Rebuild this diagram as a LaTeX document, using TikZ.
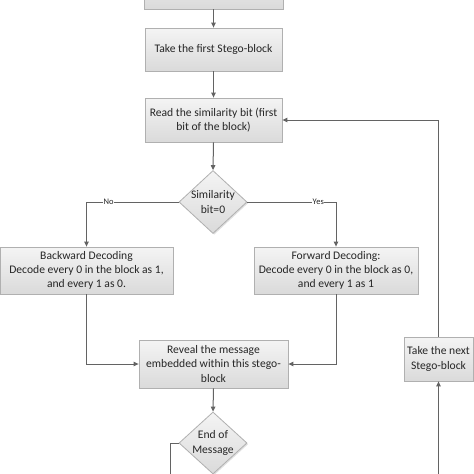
\documentclass[tikz,border=0pt]{standalone}
\usepackage{fontspec}
\setmainfont{Carlito}
\usetikzlibrary{shapes.geometric,arrows.meta,shadows}
\definecolor{linec}{HTML}{636363}
\definecolor{boxborder}{HTML}{B0B0B0}
\definecolor{boxtop}{HTML}{F4F4F4}
\definecolor{boxbot}{HTML}{DADADA}
\definecolor{textc}{HTML}{262626}
\tikzset{
  box/.style={draw=boxborder, line width=0.8pt, top color=boxtop, bottom color=boxbot,
    inner sep=0pt, align=center, text=textc, font=\fontsize{11.6}{14.4}\selectfont,
    drop shadow={shadow xshift=1.2pt, shadow yshift=-1.2pt, opacity=0.25, fill=gray}},
  dia/.style={shape=diamond, draw=boxborder, line width=0.8pt, top color=boxtop, bottom color=boxbot,
    inner sep=0pt, drop shadow={shadow xshift=1.2pt, shadow yshift=-1.2pt, opacity=0.25, fill=gray}},
  diatext/.style={align=center, text=textc, font=\fontsize{11.6}{14.4}\selectfont, inner sep=0pt},
  conn/.style={draw=linec, line width=1pt, -{Triangle[length=5pt,width=4.5pt]}},
  plain/.style={draw=linec, line width=1pt},
  lab/.style={fill=white, inner sep=0.5pt, text=textc, font=\fontsize{8.5}{9}\selectfont}
}
\begin{document}
\begin{tikzpicture}[x=1pt,y=-1pt]
\useasboundingbox (0,0) rectangle (474,474);
\clip (0,0) rectangle (474,474);
\fill[white] (0,0) rectangle (474,474);
% nodes
\node[box, minimum width=139pt, minimum height=44pt] (top) at (213.5,-13) {};
\node[box, minimum width=137pt, minimum height=43pt] (first) at (213.5,49.5) {Take the first Stego-block};
\node[box, minimum width=137pt, minimum height=44pt] (read) at (213.5,120) {Read the similarity bit (first\\bit of the block)};
\node[dia, minimum width=68pt, minimum height=63pt] (sim) at (213,202) {};
\node[diatext] (simt) at (213,202) {Similarity\\bit=0};
\node[box, minimum width=173pt, minimum height=47pt] (back) at (86.5,270.5) {Backward Decoding\\Decode every 0 in the block as 1,\\and every 1 as 0.};
\node[box, minimum width=164pt, minimum height=47pt] (fwd) at (336,270.5) {Forward Decoding:\\Decode every 0 in the block as 0,\\and every 1 as 1};
\node[box, minimum width=149pt, minimum height=48pt] (reveal) at (213.5,364) {Reveal the message\\embedded within this stego-\\block};
\node[dia, minimum width=68pt, minimum height=62pt] (end) at (213,443) {};
\node[diatext] (endt) at (213,443) {End of\\Message};
\node[box, minimum width=69pt, minimum height=44pt] (next) at (438.5,359) {Take the next\\Stego-block};
\coordinate (endl) at (170,490);
\coordinate (botr) at (438.5,490);
% connectors
\draw[conn] (top.south) -- (first.north);
\draw[conn] (first.south) -- (read.north);
\draw[conn] (read.south) -- (sim.north);
\draw[conn] (sim.west) -| node[lab, pos=0.38] {No} (back.north);
\draw[conn] (sim.east) -| node[lab, pos=0.4] {Yes} (fwd.north);
\draw[conn] (back.south) |- (reveal.west);
\draw[conn] (fwd.south) |- (reveal.east);
\draw[conn] (reveal.south) -- (end.north);
\draw[plain] (end.west) -| (endl);
\draw[conn] (botr) -- (next.south);
\draw[conn] (next.north) |- (read.east);
\end{tikzpicture}
\end{document}
